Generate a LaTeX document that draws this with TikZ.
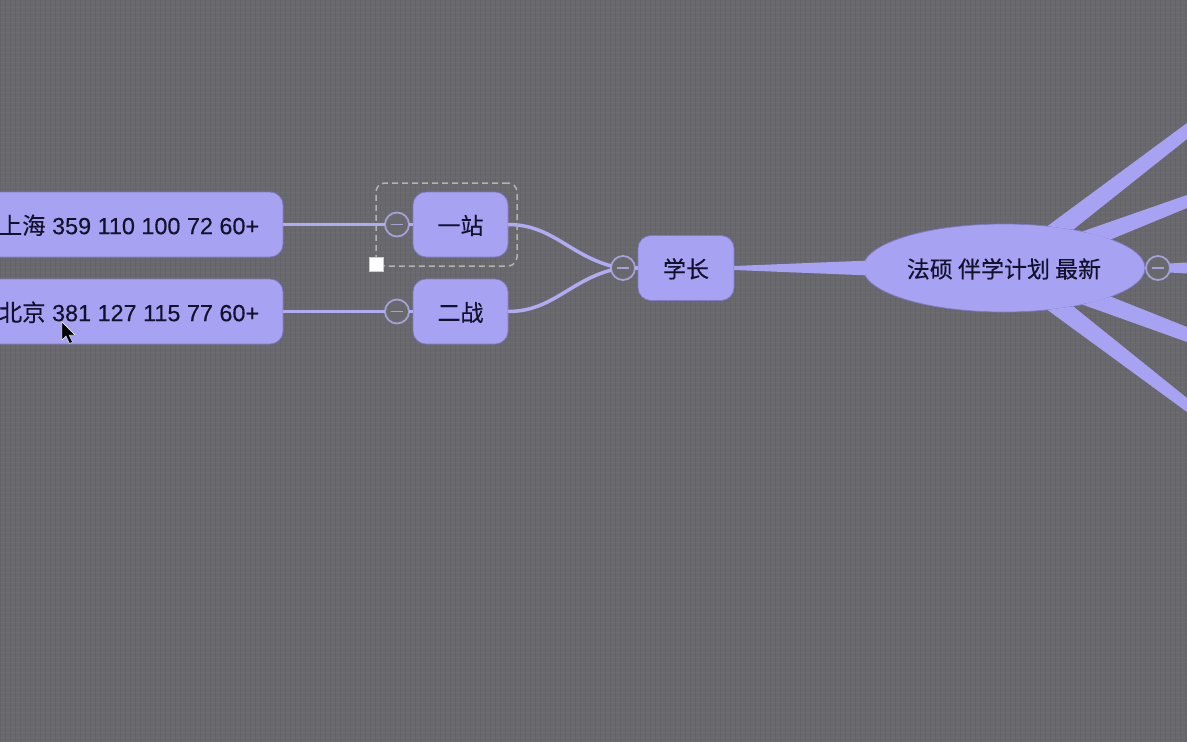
\documentclass[tikz,border=0pt]{standalone}
\usepackage{fontspec}
\setmainfont{Liberation Sans}[FakeBold=0.25]
\newfontfamily\cjk{Noto Sans CJK SC}[FakeBold=0.25]
\usetikzlibrary{positioning}
\usetikzlibrary{shapes.geometric}
\usetikzlibrary{fit}
\definecolor{canvas}{HTML}{69696D}
\definecolor{lilac}{HTML}{A8A2F3}
\definecolor{lilacline}{HTML}{7F79C6}
\definecolor{ink}{HTML}{12122C}
\definecolor{ringline}{HTML}{A5A1D6}

\begin{document}
\begin{tikzpicture}
	[	x=1pt, y=-1pt,
		every node/.style={outer sep=0pt, text=ink, font=\fontsize{23}{27}\selectfont},
		block/.style={rectangle,rounded corners=13pt,draw=lilacline,fill=lilac,line width=0.7pt,inner sep=0pt,minimum height=65pt,minimum width=95pt,text height=21pt,text depth=1.6pt},
		longblock/.style={block,minimum width=308pt,font=\fontsize{23.4}{27}\selectfont},
		hub/.style={ellipse,draw=lilacline,fill=lilac,line width=0.7pt,inner sep=0pt,minimum width=282pt,minimum height=88pt,text height=21pt,text depth=1.6pt},
		toggle/.style={circle,draw=ringline,fill=canvas,line width=1.8pt,inner sep=0pt,minimum size=24pt,
			path picture={\draw[ringline,line width=1.5pt] ([xshift=6pt]path picture bounding box.west) -- ([xshift=-6pt]path picture bounding box.east);}},
		vec/.style={lilac!90!white,line width=3.5pt},
		branch/.style={fill=lilac},
		selected/.style={rectangle,rounded corners=9pt,draw=gray!60!white,dash pattern=on 6pt off 4pt,line width=1.5pt,inner sep=9pt},
		handle/.style={rectangle,draw=gray!40!white,fill=white,line width=0.8pt,inner sep=0pt,minimum size=14pt},
		weave/.style={black,opacity=0.04,line width=1pt},
		weft/.style={white,opacity=0.03,line width=1pt}	]
	\useasboundingbox (0,0) rectangle (1187,742);
	\clip (0,0) rectangle (1187,742);
	\fill[canvas] (0,0) rectangle (1187,742);
	\foreach \i in {0,5,...,1187} \draw[weave] (\i,0) -- (\i,742);
	\foreach \i in {2,7,...,742} \draw[weft] (0,\i) -- (1187,\i);
	% nodes
	\node[hub] (main) at (1004,268) {\cjk 法硕 伴学计划 最新};
	\node[block,minimum width=96pt] (senior) [left = 129pt of main] {\cjk 学长};
	\node[block] (first) [left = 130pt of senior, yshift=43.5pt] {\cjk 一站};
	\node[block] (second) [below = 22pt of first] {\cjk 二战};
	\node[longblock] (shanghai) [left = 130pt of first] {{\cjk 上海} 359 110 100 72 60+};
	\node[longblock] (beijing) [left = 130pt of second] {{\cjk 北京} 381 127 115 77 60+};
	\coordinate (upa) at (1187,123);
	\coordinate (upb) at (1187,139);
	\coordinate (upc) at (1187,195);
	\coordinate (upd) at (1187,208);
	\coordinate (mida) at (1187,262.5);
	\coordinate (midb) at (1187,273.5);
	\coordinate (downa) at (1187,327);
	\coordinate (downb) at (1187,342);
	\coordinate (downc) at (1187,398);
	\coordinate (downd) at (1187,412);
	% tapered branches
	\fill[branch] ([yshift=2pt]senior.east) -- (main.177) -- (main.183) -- ([yshift=-2pt]senior.east) -- cycle;
	\fill[branch] (main.44) -- (upa) -- (upb) -- (main.29) -- cycle;
	\fill[branch] (main.25) -- (upc) -- (upd) -- (main.15) -- cycle;
	\fill[branch] (main.-15) -- (downa) -- (downb) -- (main.-25) -- cycle;
	\fill[branch] (main.-29) -- (downc) -- (downd) -- (main.-44) -- cycle;
	% toggles and thin branches
	\node[toggle] (togfirst) [left = 4pt of first] {};
	\node[toggle] (togsecond) [left = 4pt of second] {};
	\node[toggle] (togsenior) [left = 3pt of senior] {};
	\node[toggle] (togmain) [right = 1pt of main] {};
	\fill[branch] ([yshift=4.5pt]togmain.east) -- (mida) -- (midb) -- ([yshift=-4.5pt]togmain.east) -- cycle;
	\draw[vec] (shanghai) -- (togfirst);
	\draw[vec] (beijing) -- (togsecond);
	\draw[vec] (togfirst) -- (first);
	\draw[vec] (togsecond) -- (second);
	\draw[vec] (togsenior) -- (senior);
	\draw[vec] (first.east) to[out=0,in=165] (togsenior.170);
	\draw[vec] (second.east) to[out=0,in=195] (togsenior.190);
	% selection
	\node[selected,fit=(togfirst)(first)] (selbox) {};
	\node[handle] (grip) at (376,264) {};
	% pointer
	\draw[black,fill=black,line width=0.4pt,draw=white] (62,322) -- (62,340) -- (66,336) -- (69.5,343.5) -- (72.5,342) -- (69,335) -- (75,335) -- cycle;
\end{tikzpicture}
\end{document}
